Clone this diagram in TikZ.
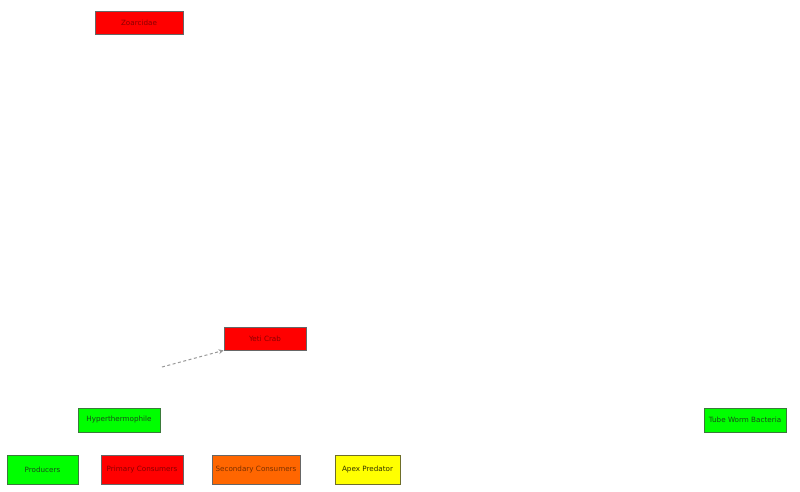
\documentclass[tikz,border=0pt]{standalone}
\usepackage{fontspec}
\setmainfont{DejaVu Sans}
\usetikzlibrary{arrows.meta}
\definecolor{bred}{HTML}{FF0000}
\definecolor{bgreen}{HTML}{00FF00}
\definecolor{borange}{HTML}{FF6600}
\definecolor{byellow}{HTML}{FFFF00}
\definecolor{edgegray}{HTML}{666666}
\definecolor{edgegreen}{HTML}{3A7A3A}
\definecolor{edgeyellow}{HTML}{6E6E2A}
\definecolor{txtred}{HTML}{8A0000}
\definecolor{txtgreen}{HTML}{1A4A1A}
\definecolor{txtorange}{HTML}{7A3000}
\definecolor{txtyellow}{HTML}{333300}
\definecolor{arrowgray}{HTML}{999999}
\tikzset{
  box/.style={draw, line width=0.8pt, inner sep=0pt, font=\fontsize{7.2}{9}\selectfont},
  redbox/.style={box, fill=bred, draw=edgegray, text=txtred},
  greenbox/.style={box, fill=bgreen, draw=edgegreen, text=txtgreen},
  orangebox/.style={box, fill=borange, draw=edgegray, text=txtorange},
  yellowbox/.style={box, fill=byellow, draw=edgeyellow, text=txtyellow},
  link/.style={draw=arrowgray, line width=1pt, dash pattern=on 3pt off 2.5pt, -{Stealth[length=5pt,width=5pt]}}
}
\begin{document}
\begin{tikzpicture}[x=1pt,y=-1pt]
\useasboundingbox (0,0) rectangle (800,491);
\node[redbox, minimum width=88pt, minimum height=23pt] (zoarcidae) at (139,22.5) {Zoarcidae};
\node[redbox, minimum width=82pt, minimum height=23pt] (yeti) at (265,338.5) {Yeti Crab};
\node[greenbox, minimum width=82pt, minimum height=24pt] (hyper) at (119,420) {Hyperthermophile};
\node[greenbox, minimum width=82pt, minimum height=24pt] (tube) at (745,420) {Tube Worm Bacteria};
\node[greenbox, minimum width=71pt, minimum height=29pt] (producers) at (42.5,469.5) {Producers};
\node[redbox, minimum width=82pt, minimum height=29pt] (primary) at (142,469.5) {Primary Consumers};
\node[orangebox, minimum width=88pt, minimum height=29pt] (secondary) at (256,469.5) {Secondary Consumers};
\node[yellowbox, minimum width=65pt, minimum height=29pt] (apex) at (367.5,469.5) {Apex Predator};
\coordinate (src) at (162,367);
\draw[link] (src) -- (yeti.south west);
\end{tikzpicture}
\end{document}
